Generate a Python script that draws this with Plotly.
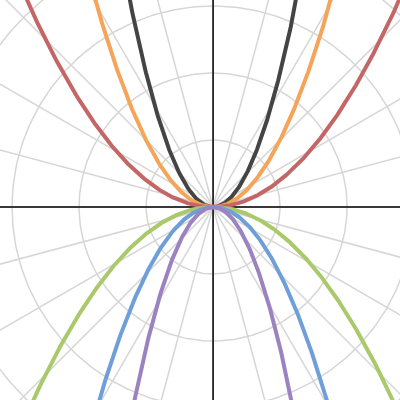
import numpy as np
import plotly.graph_objects as go

# parabola coefficients y = a*x^2
coef = [2.0, 1.0, 0.4, -0.4, -1.0, -2.1]
colors = ["#444444", "#f5a55a", "#c46666", "#a9c96b", "#6f9fd8", "#9b82c0"]
radii = [1, 2, 3, 4, 5]
angles_deg = list(range(0, 180, 15))

fig = go.Figure()

t = np.linspace(0, 2 * np.pi, 361)
for r in radii:
    fig.add_trace(go.Scatter(x=r * np.cos(t), y=r * np.sin(t), mode="lines",
                             line=dict(color="#d6d6d6", width=1.5), hoverinfo="skip"))
for a in angles_deg:
    th = np.radians(a)
    fig.add_trace(go.Scatter(x=[-6 * np.cos(th), 6 * np.cos(th)], y=[-6 * np.sin(th), 6 * np.sin(th)],
                             mode="lines", line=dict(color="#d6d6d6", width=1.5), hoverinfo="skip"))
fig.add_trace(go.Scatter(x=[-6, 6], y=[0, 0], mode="lines", line=dict(color="black", width=1.5)))
fig.add_trace(go.Scatter(x=[0, 0], y=[-6, 6], mode="lines", line=dict(color="black", width=1.5)))

x = np.linspace(-4, 4, 801)
for a, c in zip(coef, colors):
    fig.add_trace(go.Scatter(x=x, y=a * x ** 2, mode="lines", line=dict(color=c, width=4)))

fig.update_xaxes(range=[-3.18, 2.79], visible=False)
fig.update_yaxes(range=[-2.88, 3.09], visible=False)
fig.update_layout(margin=dict(l=0, r=0, t=0, b=0),
                  plot_bgcolor="white", paper_bgcolor="white", showlegend=False)
fig.write_html("out.html", default_width="100vw", default_height="100vh",
               config={"displayModeBar": False},
               post_script="document.body.style.margin='0';")
